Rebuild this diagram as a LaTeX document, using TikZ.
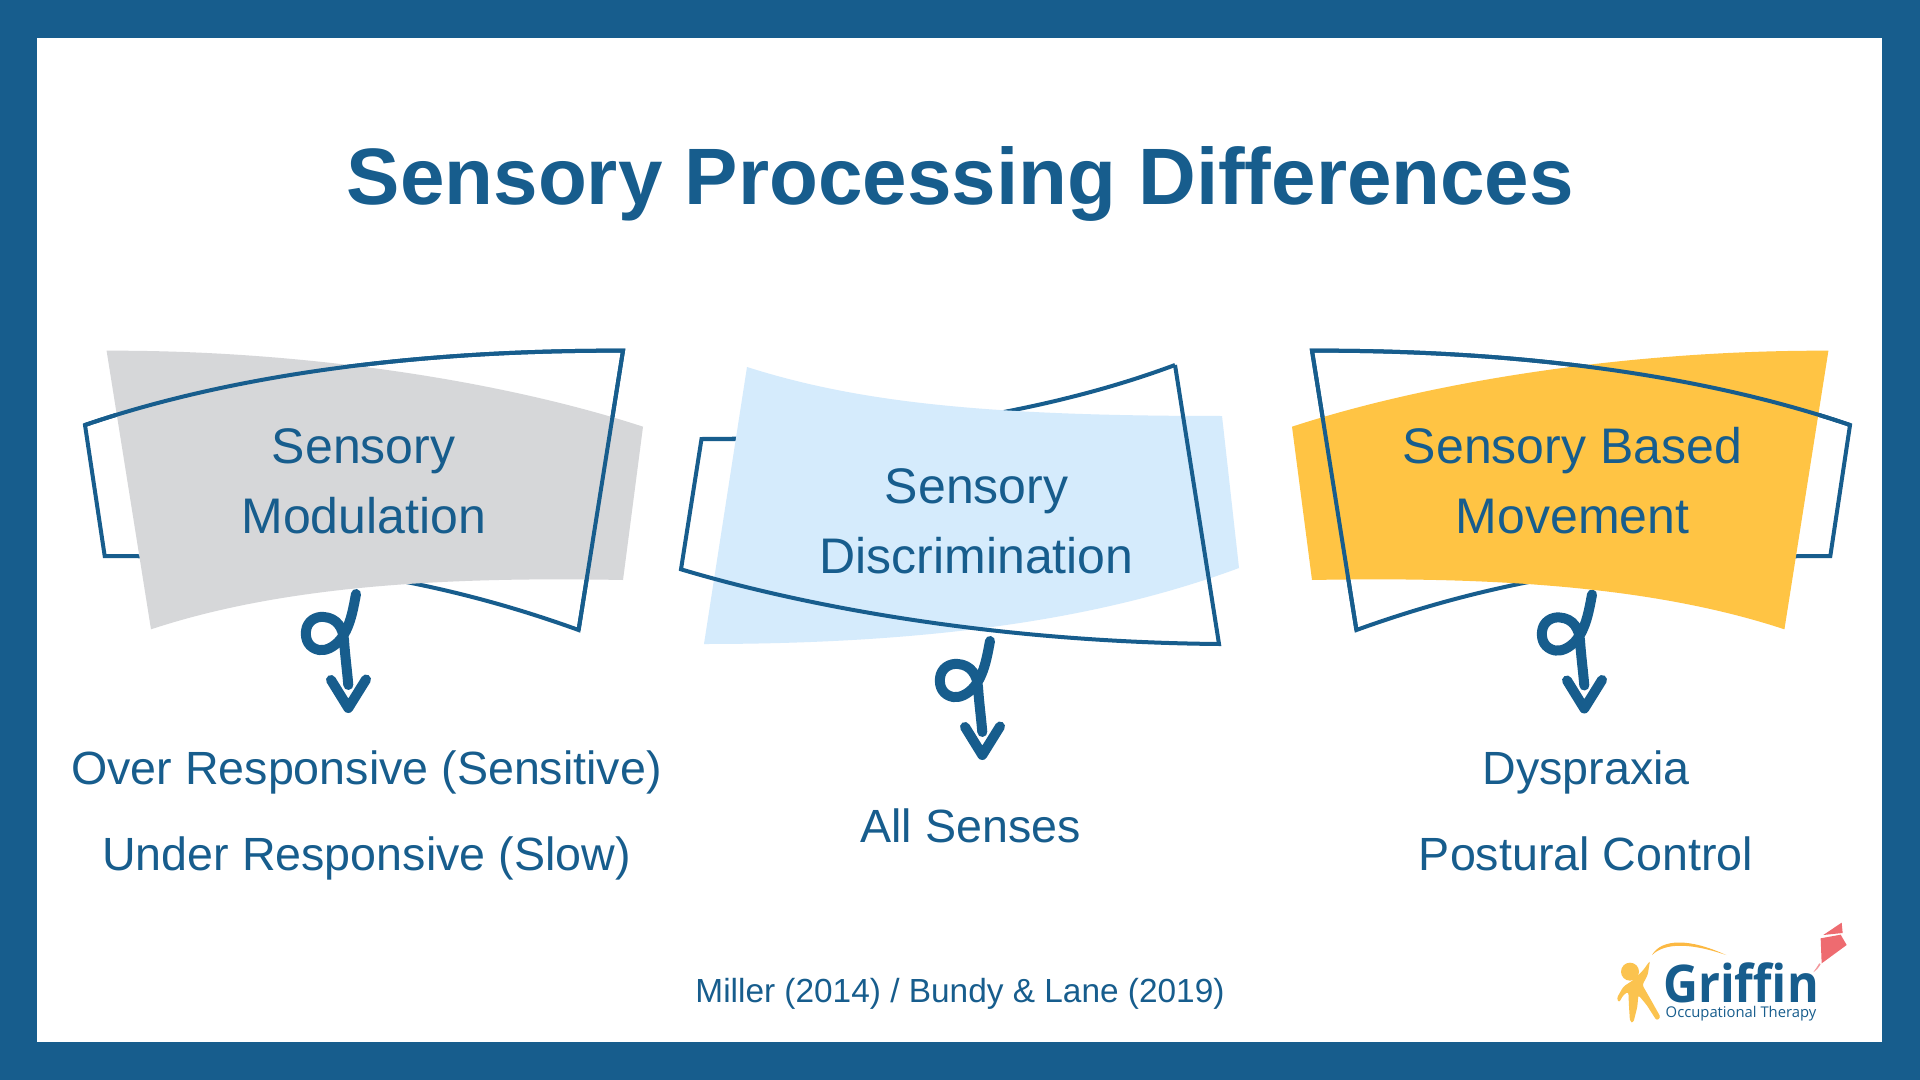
\documentclass[tikz,border=0pt]{standalone}
\usepackage{fontspec}
\setmainfont{Liberation Sans}
\newfontfamily\logofont[FakeStretch=0.93]{Open Sans}
\newfontfamily\logosub{Open Sans}
\definecolor{bluemain}{HTML}{175D8D}
\definecolor{graybox}{HTML}{D6D7D9}
\definecolor{lightbox}{HTML}{D5EBFC}
\definecolor{yellowbox}{HTML}{FFC444}
\definecolor{logoyellow}{HTML}{FBC34F}
\definecolor{kitered}{HTML}{EE6B70}
\tikzset{
  framed/.style={draw=bluemain,line width=2pt,line join=miter},
  squig/.style={draw=bluemain,line width=5pt,line cap=round,line join=round},
  boxtext/.style={text=bluemain,align=center,inner sep=0pt,anchor=base,font=\fontsize{25}{25}\selectfont},
  listtext/.style={text=bluemain,inner sep=0pt,anchor=base,font=\fontsize{23.3}{23.3}\selectfont},
}
\newcommand{\squiggle}[2]{%
\begin{scope}[shift={(#1,#2)}]
\draw[squig] (356,594) .. controls (353,610) and (350,628) .. (340,640)
 .. controls (333,648) and (325,651) .. (319,650)
 .. controls (309,648) and (305,640) .. (306,631)
 .. controls (307,621) and (316,616) .. (324,617)
 .. controls (337,618) and (343,628) .. (344,640)
 .. controls (345,655) and (347,670) .. (348.3,685);
\draw[squig] (331,680) -- (348.3,708) -- (366,679.5);
\end{scope}}
\begin{document}
\begin{tikzpicture}[x=0.5pt,y=-0.5pt]
\useasboundingbox (0,0) rectangle (1920,1080);
\fill[bluemain] (0,0) rectangle (1920,1080);
\fill[white] (37,38) rectangle (1882,1042);
\node[text=bluemain,inner sep=0pt,anchor=base,font=\fontsize{40}{40}\selectfont\bfseries] (title) at (960.5,205) {Sensory Processing Differences};
% left
\squiggle{0}{0}
\draw[framed] (623,350.7) .. controls (430,350) and (240,372) .. (85,425) -- (104.7,556) .. controls (300,556) and (440,580) .. (578.6,630) -- cycle;
\fill[graybox] (106.6,350.7) .. controls (300,350) and (500,380) .. (643,426.7) -- (623,580) .. controls (420,576) and (270,590) .. (151,629.3) -- cycle;
\draw[framed] (578.6,630) -- (623,350.7) .. controls (430,350) and (240,372) .. (85,425);
\node[boxtext] (a1) at (363.7,463) {Sensory};
\node[boxtext] (a2) at (363.7,533) {Modulation};
% middle
\squiggle{634}{47}
\draw[framed] (701.5,439) .. controls (900,439) and (1060,408) .. (1175,365);
\fill[lightbox] (747,367) .. controls (860,403) and (990,416) .. (1222,416) -- (1239,568) .. controls (1120,612) and (960,644) .. (704,644) -- cycle;
\draw[framed] (1175,365) -- (1219,644) .. controls (990,642) and (800,605) .. (681,569.3) -- (701.5,439) -- (735,439);
\node[boxtext] (b1) at (976.6,503) {Sensory};
\node[boxtext] (b2) at (976.6,573) {Discrimination};
% right
\squiggle{1236}{0.5}
\draw[framed] (1312,350.7) .. controls (1505,350) and (1695,372) .. (1850,425) -- (1830.3,556) .. controls (1635,556) and (1495,580) .. (1356.4,630) -- cycle;
\fill[yellowbox] (1828.4,350.7) .. controls (1635,350) and (1435,380) .. (1292,426.7) -- (1312,580) .. controls (1515,576) and (1665,590) .. (1784.4,629.3) -- cycle;
\draw[framed] (1356.4,630) -- (1312,350.7) .. controls (1505,350) and (1695,372) .. (1850,425);
\node[boxtext] (c1) at (1572.5,463) {Sensory Based};
\node[boxtext] (c2) at (1572.5,533) {Movement};
% lists
\node[listtext] (l1) at (366.5,784) {Over Responsive (Sensitive)};
\node[listtext] (l2) at (366.5,870.5) {Under Responsive (Slow)};
\node[listtext] (m1) at (970.5,842.5) {All Senses};
\node[listtext] (r1) at (1586,784) {Dyspraxia};
\node[listtext] (r2) at (1586,870.5) {Postural Control};
\node[text=bluemain,inner sep=0pt,anchor=base,font=\fontsize{16.7}{16.7}\selectfont] (cite) at (960,1002.5) {Miller (2014) / Bundy \& Lane (2019)};
% logo
\begin{scope}[shift={(1590,900)},scale=0.3333]
\fill[logoyellow] (120,215) circle (27);
\fill[logoyellow,rounded corners=1.2pt] (180,182) -- (173,225) -- (157,255) -- (180,295) -- (212,352) -- (200,362) -- (170,315) -- (145,285) -- (142,320) -- (130,368) -- (120,365) -- (117,320) -- (115,275) -- (100,285) -- (87,308) -- (80,295) -- (100,260) -- (130,240) -- (160,210) -- cycle;
\fill[logoyellow!85!orange] (186,165) .. controls (215,115) and (300,115) .. (408,165) .. controls (300,128) and (225,128) .. cycle;
\fill[kitered] (755,68) -- (758,99) -- (700,105) -- cycle;
\fill[kitered] (692,115) -- (752,104) -- (770,135) -- (695,190) -- cycle;
\fill[kitered!70!white] (692,192) .. controls (685,205) and (678,212) .. (670,217) .. controls (678,205) and (683,198) .. (688,190) -- cycle;
\end{scope}
\node[text=bluemain,inner sep=0pt,anchor=base,font=\logofont\fontsize{26}{26}\selectfont\bfseries] (griffin) at (1741,1002.5) {Griffin};
\node[text=bluemain,inner sep=0pt,anchor=base,font=\logosub\fontsize{7.4}{7.4}\selectfont] (ot) at (1741,1017) {Occupational Therapy};
\end{tikzpicture}
\end{document}
